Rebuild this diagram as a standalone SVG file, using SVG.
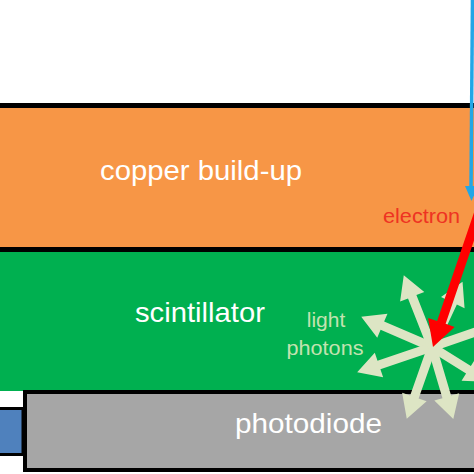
<svg xmlns="http://www.w3.org/2000/svg" width="474" height="474" viewBox="0 0 474 474">
<style>
.lbl{font-family:"Liberation Sans",Arial,sans-serif;fill:#ffffff}
.ph{fill:#dde5c4}
</style>
<rect x="0" y="0" width="474" height="474" fill="#ffffff"/>
<g id="copper">
<rect x="-5" y="105.5" width="490" height="144" fill="#f79646" stroke="#000" stroke-width="5"/>
<text class="lbl" x="100" y="180" font-size="28" textLength="202" lengthAdjust="spacingAndGlyphs">copper build-up</text>
</g>
<g id="scintillator">
<rect x="-5" y="252" width="490" height="139" fill="#00b050"/>
<text class="lbl" x="135" y="322" font-size="28" textLength="130" lengthAdjust="spacingAndGlyphs">scintillator</text>
</g>
<g id="blue-pad">
<rect x="-5" y="408.5" width="28" height="46" fill="#4f81bd" stroke="#000" stroke-width="3"/>
</g>
<g id="photodiode">
<rect x="25" y="392" width="470" height="78" fill="#a6a6a6" stroke="#000" stroke-width="4"/>
<text class="lbl" x="235" y="433" font-size="28" textLength="147" lengthAdjust="spacingAndGlyphs">photodiode</text>
</g>
<g id="connectors">
<g id="photons" transform="translate(432,347)">
<path class="ph" transform="rotate(203.2)" d="M0,-4.5H54V-13L77,0L54,13V4.5H0Z"/>
<path class="ph" transform="rotate(161.3)" d="M0,-4.5H56V-13L79,0L56,13V4.5H0Z"/>
<path class="ph" transform="rotate(248.5)" d="M0,-4.5H54V-13L77,0L54,13V4.5H0Z"/>
<path class="ph" transform="rotate(-64.9)" d="M0,-4.5H49V-13L72,0L49,13V4.5H0Z"/>
<path class="ph" transform="rotate(-19)" d="M0,-4.5H56V-13L79,0L56,13V4.5H0Z"/>
<path class="ph" transform="rotate(32)" d="M0,-4.5H43V-13L66,0L43,13V4.5H0Z"/>
<path class="ph" transform="rotate(109.4)" d="M0,-4.5H53V-13L76,0L53,13V4.5H0Z"/>
<path class="ph" transform="rotate(73.5)" d="M0,-4.5H52V-13L75,0L52,13V4.5H0Z"/>
</g>
<path id="electron-arrow" fill="#ff0000" transform="translate(433,347) rotate(108.8)" d="M0,0L-26,-14L-26,-4.5L-160,-4.5L-160,4.5L-26,4.5L-26,14Z"/>
<g id="xray">
<line x1="472.5" y1="-5" x2="471" y2="188" stroke="#22a6e6" stroke-width="3.5"/>
<polygon points="465,186 478,186 471.5,201" fill="#22a6e6"/>
</g>
</g>
<text x="383" y="223" font-family="'Liberation Sans',Arial,sans-serif" font-size="21" fill="#ee3322" textLength="77" lengthAdjust="spacingAndGlyphs">electron</text>
<g font-family="'Liberation Sans',Arial,sans-serif" font-size="21" fill="#c3e3b0" text-anchor="middle">
<text x="326" y="327">light</text>
<text x="325" y="355" textLength="77" lengthAdjust="spacingAndGlyphs">photons</text>
</g>
</svg>
